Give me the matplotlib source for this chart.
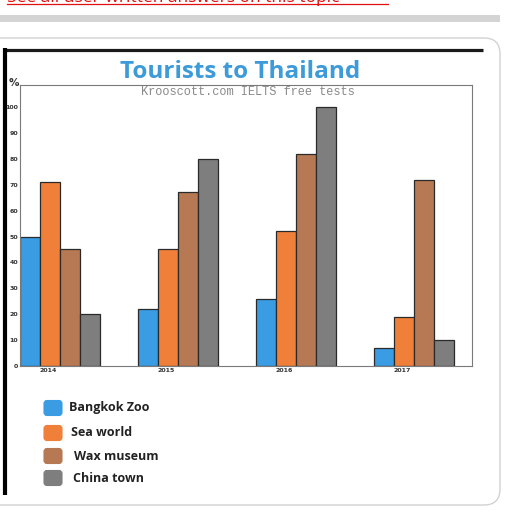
"""
Tourists to Thailand: grouped bar chart in a screenshot-style card.
Out: out.png (511x512)
"""
import numpy as np
import matplotlib
matplotlib.use("Agg")
import matplotlib.pyplot as plt
from matplotlib.patches import FancyBboxPatch, Rectangle

W, H = 511, 512

# data (%)
years = ["2014", "2015", "2016", "2017"]
bangkok_zoo = [50, 22, 26, 7]
sea_world = [71, 45, 52, 19]
wax_museum = [45, 67, 82, 72]
china_town = [20, 80, 100, 10]
series_names = ["Bangkok Zoo", "Sea world", "Wax museum", "China town"]
yticks = [0, 10, 20, 30, 40, 50, 60, 70, 80, 90, 100]

COLORS = ["#3a9de3", "#f07f3a", "#b77953", "#7e7e7e"]


def main():
    fig = plt.figure(figsize=(W / 100, H / 100), dpi=100)

    # page overlay in pixel coordinates
    bg = fig.add_axes([0, 0, 1, 1], zorder=0)
    bg.set_xlim(0, W); bg.set_ylim(H, 0); bg.axis("off")

    bg.text(7, 1.5, "See all user-written answers on this topic", color="#e01010",
            fontsize=12.5, family="Open Sans", va="baseline", ha="left")
    bg.plot([7, 388], [3.8, 3.8], color="#e01010", lw=0.9)
    bg.add_patch(Rectangle((0, 15), 500, 7, color="#d4d4d4", lw=0))
    bg.add_patch(FancyBboxPatch((-30, 38), 530, 467, boxstyle="round,pad=0,rounding_size=16",
                                fc="white", ec="#d2d2d2", lw=1.0))
    bg.plot([4, 483], [49.5, 49.5], color="#1a1a1a", lw=2.3, solid_capstyle="butt")
    bg.plot([5, 5], [48, 495], color="#000000", lw=3.0, solid_capstyle="butt")

    bg.text(240, 72, "Tourists to Thailand", color="#3d9bd9", fontsize=17.5,
            fontweight="bold", family="Open Sans", ha="center", va="center")
    bg.text(9, 83, "%", color="#333", fontsize=7.5, fontweight="bold",
            family="DejaVu Sans", ha="left", va="center")

    # legend
    leg_y = [408, 433, 456, 478]
    leg_x = [69, 71, 74, 73]
    for name, c, y, tx in zip(series_names, COLORS, leg_y, leg_x):
        bg.add_patch(FancyBboxPatch((44, y - 7.5), 18, 15, boxstyle="round,pad=0,rounding_size=3",
                                    fc=c, ec=c, lw=0.8))
        bg.text(tx, y, name, color="#222", fontsize=9, fontweight="bold",
                family="Open Sans", ha="left", va="center")

    # chart
    ax = fig.add_axes([20 / W, 1 - 366 / H, 452 / W, 281 / H], zorder=1)
    ax.patch.set_alpha(0)
    x = np.arange(len(years))
    w = 20 / 118
    for i, (vals, c) in enumerate(zip([bangkok_zoo, sea_world, wax_museum, china_town], COLORS)):
        ax.bar(x + (i - 1.5) * w, vals, w, color=c, edgecolor="#2a2a2a", lw=0.9, zorder=2)

    ax.set_xlim(-40 / 118, 412 / 118)
    ax.set_ylim(0, 108.5)
    ax.set_xticks(x - 0.1)
    ax.set_xticklabels(years, fontsize=4.5, fontweight="bold", color="#333")
    ax.set_yticks(yticks)
    ax.set_yticklabels([str(t) for t in yticks], fontsize=4.5, fontweight="bold", color="#333")
    ax.tick_params(length=0, pad=1.5)
    for s in ax.spines.values():
        s.set_color("#7a7a7a"); s.set_linewidth(0.8)
    ax.text(0.505, 0.995, "Krooscott.com IELTS free tests", transform=ax.transAxes,
            color="#8a8a8a", fontsize=8.6, family="Liberation Mono", ha="center", va="top")

    fig.savefig("out.png", dpi=100)
    plt.close(fig)


if __name__ == "__main__":
    main()
